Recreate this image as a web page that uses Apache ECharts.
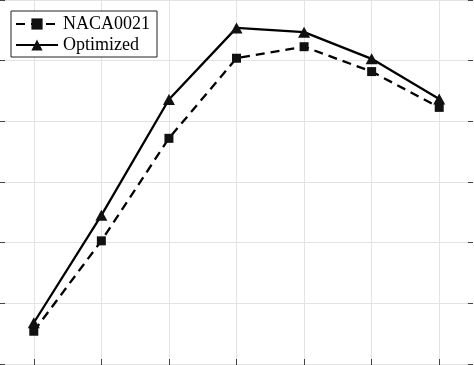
<!DOCTYPE html>
<html>
<head>
<meta charset="utf-8">
<script src="https://cdn.jsdelivr.net/npm/echarts@6/dist/echarts.min.js"></script>
<style>html,body{margin:0;padding:0;background:#fff}#c{width:474px;height:365px}</style>
</head>
<body>
<div id="c"></div>
<script>
const categories = ['1', '2', '3', '4', '5', '6', '7'];
const nacaValues = [0.54, 2.03, 3.72, 5.04, 5.23, 4.82, 4.23];
const optimizedValues = [0.68, 2.45, 4.36, 5.54, 5.47, 5.03, 4.37];
const yTicks = [0, 1, 2, 3, 4, 5, 6];

const chart = echarts.init(document.getElementById('c'), null, {renderer: 'canvas'});
const tickStyle = {show: true, inside: true, length: 5, lineStyle: {color: '#444', width: 1}};
const gridLine = {show: true, lineStyle: {color: '#e3e3e3', width: 1}};
chart.setOption({
  animation: false,
  backgroundColor: '#fff',
  grid: {left: 0, right: 1, top: 0, bottom: 1, containLabel: false},
  legend: {
    orient: 'vertical',
    left: 11, top: 11,
    backgroundColor: '#fff',
    borderColor: '#222', borderWidth: 1,
    padding: [4, 7, 3, 4],
    itemGap: 3,
    itemWidth: 42, itemHeight: 14,
    textStyle: {fontFamily: 'Liberation Serif', fontSize: 18, color: '#000'},
    data: ['NACA0021', 'Optimized']
  },
  xAxis: [{
    type: 'category', data: categories, boundaryGap: true, position: 'bottom',
    axisLine: {show: false}, axisLabel: {show: false},
    axisTick: Object.assign({alignWithLabel: true}, tickStyle),
    splitLine: Object.assign({alignWithLabel: true}, gridLine)
  }, {
    type: 'category', data: categories, boundaryGap: true, position: 'top',
    axisLine: {show: false}, axisLabel: {show: false},
    axisTick: Object.assign({alignWithLabel: true}, tickStyle),
    splitLine: {show: false}
  }],
  yAxis: [{
    type: 'value', min: yTicks[0], max: yTicks[yTicks.length - 1], interval: 1, position: 'left',
    axisLine: {show: false}, axisLabel: {show: false},
    axisTick: tickStyle, splitLine: gridLine
  }, {
    type: 'value', min: yTicks[0], max: yTicks[yTicks.length - 1], interval: 1, position: 'right',
    axisLine: {show: false}, axisLabel: {show: false},
    axisTick: tickStyle, splitLine: {show: false}
  }],
  series: [{
    name: 'NACA0021', type: 'line', data: nacaValues,
    symbol: 'rect', symbolSize: 9,
    lineStyle: {color: '#000', width: 2.3, type: [9, 6]},
    itemStyle: {color: '#111'}, z: 3
  }, {
    name: 'Optimized', type: 'line', data: optimizedValues,
    symbol: 'triangle', symbolSize: [12, 11],
    lineStyle: {color: '#000', width: 2.3, type: 'solid'},
    itemStyle: {color: '#111'}, z: 4
  }]
});
</script>
</body>
</html>
